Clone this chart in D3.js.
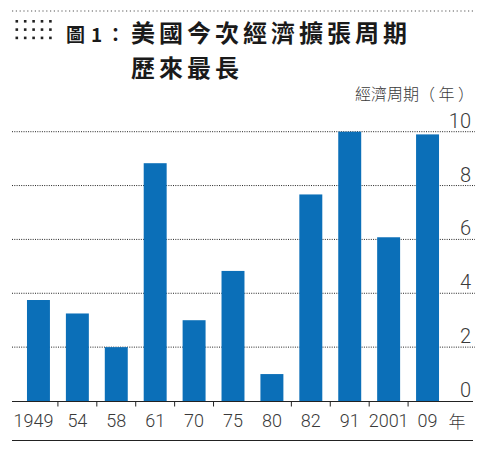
<!DOCTYPE html>
<html>
<head>
<meta charset="utf-8">
<script src="https://cdn.jsdelivr.net/npm/d3@7"></script>
<style>
  body { margin: 0; background: #fff; }
  svg { display: block; }
</style>
</head>
<body>
<div id="chart"></div>
<script>
// data
const years = ["1949", "54", "58", "61", "70", "75", "80", "82", "91", "2001", "09"];
const cycleYears = [3.75, 3.25, 2.0, 8.83, 3.0, 4.83, 1.0, 7.67, 10.0, 6.08, 9.9];
const yTicks = [0, 2, 4, 6, 8, 10];
// categories followed by a small tick on the axis
const tickAfter = ["1949", "54", "58", "61", "70", "80", "82", "91", "2001"];

const W = 493, H = 458;
const left = 12, right = 475;
const blue = "#0b6fb8";
const ink = "#3a3a3a";
const numFont = "Roboto, 'Liberation Sans', sans-serif";
const cjkFont = "'Noto Sans CJK TC', 'Noto Sans CJK SC', sans-serif";

const data = years.map((d, i) => ({ year: d, value: cycleYears[i] }));

const svg = d3.select("#chart")
  .append("svg")
  .attr("width", W)
  .attr("height", H);

const x = d3.scaleBand()
  .domain(years)
  .range([19, 447])
  .paddingInner(0.41)
  .paddingOuter(0.205);

const y = d3.scaleLinear()
  .domain([0, 10])
  .range([401, 131.7]);

// header: dotted rule, dot icon, title
svg.append("line")
  .attr("x1", left).attr("x2", right)
  .attr("y1", 11).attr("y2", 11)
  .attr("stroke", "#555")
  .attr("stroke-width", 1.2)
  .attr("stroke-dasharray", "1.2,2.6");

const dots = d3.range(15).map((i) => ({ c: i % 5, r: Math.floor(i / 5) }));
svg.append("g")
  .selectAll("rect")
  .data(dots)
  .join("rect")
  .attr("x", (d) => 15.5 + d.c * 8.4)
  .attr("y", (d) => 20 + d.r * 8.3)
  .attr("width", 2.6)
  .attr("height", 2.6)
  .attr("fill", "#222");

const label = svg.append("text")
  .attr("y", 42)
  .style("font-family", cjkFont)
  .style("font-weight", 700)
  .style("font-size", "19px")
  .attr("fill", "#1a1a1a");
label.append("tspan").attr("x", 66).text("圖");
label.append("tspan").attr("x", 91).text("1");
label.append("tspan").attr("x", 106).text("：");

svg.append("text")
  .attr("x", 131)
  .attr("y", 42)
  .style("font-family", cjkFont)
  .style("font-weight", 700)
  .style("font-size", "24px")
  .style("letter-spacing", "4px")
  .attr("fill", "#1a1a1a")
  .text("美國今次經濟擴張周期");

svg.append("text")
  .attr("x", 131)
  .attr("y", 77)
  .style("font-family", cjkFont)
  .style("font-weight", 700)
  .style("font-size", "24px")
  .style("letter-spacing", "4px")
  .attr("fill", "#1a1a1a")
  .text("歷來最長");

svg.append("text")
  .attr("x", 474)
  .attr("y", 100)
  .attr("text-anchor", "end")
  .style("font-family", cjkFont)
  .style("font-weight", 300)
  .style("font-size", "16px")
  .attr("fill", ink)
  .text("經濟周期（ 年 ）");

// gridlines
svg.append("g")
  .selectAll("line")
  .data(yTicks.filter((d) => d > 0))
  .join("line")
  .attr("x1", left).attr("x2", right)
  .attr("y1", (d) => y(d)).attr("y2", (d) => y(d))
  .attr("stroke", "#222")
  .attr("stroke-width", 1)
  .attr("stroke-dasharray", "1,1.3");

// y labels, right side above each line
svg.append("g")
  .selectAll("text")
  .data(yTicks)
  .join("text")
  .attr("x", 471)
  .attr("y", (d) => y(d) - 4)
  .attr("text-anchor", "end")
  .style("font-family", numFont)
  .style("font-weight", 300)
  .style("font-size", "20px")
  .attr("fill", ink)
  .text((d) => d);

// bars
svg.append("g")
  .selectAll("rect")
  .data(data)
  .join("rect")
  .attr("x", (d) => x(d.year))
  .attr("y", (d) => y(d.value))
  .attr("width", x.bandwidth())
  .attr("height", (d) => y(0) - y(d.value))
  .attr("fill", blue);

// baseline and ticks
svg.append("line")
  .attr("x1", left).attr("x2", 473)
  .attr("y1", y(0) + 0.5).attr("y2", y(0) + 0.5)
  .attr("stroke", "#222")
  .attr("stroke-width", 1.2);

const gap = x.step() - x.bandwidth();
svg.append("g")
  .selectAll("line")
  .data(tickAfter)
  .join("line")
  .attr("x1", (d) => x(d) + x.bandwidth() + gap / 2)
  .attr("x2", (d) => x(d) + x.bandwidth() + gap / 2)
  .attr("y1", y(0))
  .attr("y2", y(0) + 5.5)
  .attr("stroke", "#222")
  .attr("stroke-width", 1);

// x labels
svg.append("g")
  .selectAll("text")
  .data(years)
  .join("text")
  .attr("x", (d, i) => x(d) + x.bandwidth() / 2 - (i === 0 ? 5 : 0))
  .attr("y", 427)
  .attr("text-anchor", "middle")
  .style("font-family", numFont)
  .style("font-weight", 300)
  .style("font-size", "18px")
  .attr("fill", ink)
  .text((d) => d);

svg.append("text")
  .attr("x", 457)
  .attr("y", 428)
  .attr("text-anchor", "middle")
  .style("font-family", cjkFont)
  .style("font-weight", 300)
  .style("font-size", "17px")
  .attr("fill", ink)
  .text("年");

// bottom rule
svg.append("line")
  .attr("x1", left).attr("x2", 473)
  .attr("y1", 440.5).attr("y2", 440.5)
  .attr("stroke", "#222")
  .attr("stroke-width", 1.2);
</script>
</body>
</html>
